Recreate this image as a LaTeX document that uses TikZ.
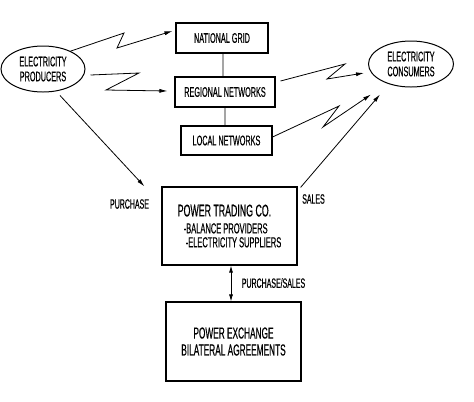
\documentclass[tikz,border=0pt]{standalone}
\usepackage{fontspec}
\newfontfamily\cond[FakeStretch=0.52,FakeBold=0.4]{Liberation Sans}
\usetikzlibrary{shapes.geometric,arrows.meta}
\tikzset{
  box/.style={draw,line width=1.1pt,inner sep=0pt,font=\cond\fontsize{14}{15}\selectfont,align=center},
  oval/.style={draw,ellipse,line width=1pt,inner sep=0pt,font=\cond\fontsize{14}{15}\selectfont,align=center},
  lbl/.style={font=\cond\fontsize{13.5}{14}\selectfont,inner sep=0pt},
  conn/.style={line width=0.8pt,-{Latex[length=8bp,width=4bp]}},
}
\begin{document}
\begin{tikzpicture}[x=1bp,y=-1bp]
\useasboundingbox (0,0) rectangle (474,401);
\node[oval,minimum width=84bp,minimum height=46bp] (prod) at (43,69) {ELECTRICITY\\PRODUCERS};
\node[oval,minimum width=85bp,minimum height=46bp] (cons) at (411,64) {ELECTRICITY\\CONSUMERS};
\node[box,minimum width=92bp,minimum height=30bp] (ng) at (222,38) {NATIONAL GRID};
\node[box,minimum width=100bp,minimum height=30bp] (rn) at (225,92) {REGIONAL NETWORKS};
\node[box,minimum width=91bp,minimum height=29bp] (ln) at (226.5,140.5) {LOCAL NETWORKS};
\node[box,minimum width=135bp,minimum height=78bp,align=left] (ptc) at (229.5,226)
  {{\fontsize{17}{18}\selectfont POWER TRADING CO.}\\[2bp]
   \hspace*{6bp}{\fontsize{14.5}{12}\selectfont -BALANCE PROVIDERS}\\[-1bp]
   \hspace*{8bp}{\fontsize{14.5}{12}\selectfont -ELECTRICITY SUPPLIERS}};
\node[box,minimum width=135bp,minimum height=79bp,font=\cond\fontsize{16}{17}\selectfont] (pe) at (233.5,341.5)
  {POWER EXCHANGE\\BILATERAL AGREEMENTS};
\draw[line width=0.8pt] ([xshift=1bp]ng.south) -- ([xshift=-2bp]rn.north);
\draw[line width=0.8pt] (rn.south) -- ([xshift=-1.5bp]ln.north);
% lightning connectors
\draw[conn] (prod.33) -- (124,33) -- (117,48) -- ([xshift=-3bp,yshift=7bp]ng.west);
\draw[conn] ([xshift=5bp,yshift=-6bp]prod.east) -- (139,73) -- (106,90) -- ([xshift=-7bp,yshift=1bp]rn.west);
\draw[conn] ([xshift=5bp,yshift=11bp]rn.east) -- (345,64) -- (327,79) -- ([xshift=-4bp,yshift=-9bp]cons.west);
\draw[conn] ([yshift=3.5bp]ln.east) -- (339,106) -- (323,127) -- ([xshift=-40bp,yshift=-7bp]cons.south);
% purchase / sales
\draw[conn] ([xshift=17bp,yshift=-3bp]prod.south) -- ([xshift=-17bp]ptc.north west);
\draw[conn] ([xshift=3bp,yshift=-1bp]ptc.north east) -- ([xshift=-31bp,yshift=-7bp]cons.south);
\draw[line width=0.8pt,{Latex[length=7bp,width=4bp]}-{Latex[length=7bp,width=4bp]}] ([xshift=1.5bp]ptc.south) -- ([xshift=1.5bp]ptc.south |- pe.north);
\node[lbl] (lp) at (129.5,204) {PURCHASE};
\node[lbl] (ls) at (313.5,199) {SALES};
\node[lbl] (lps) at (273.5,283) {PURCHASE/SALES};
\end{tikzpicture}
\end{document}
